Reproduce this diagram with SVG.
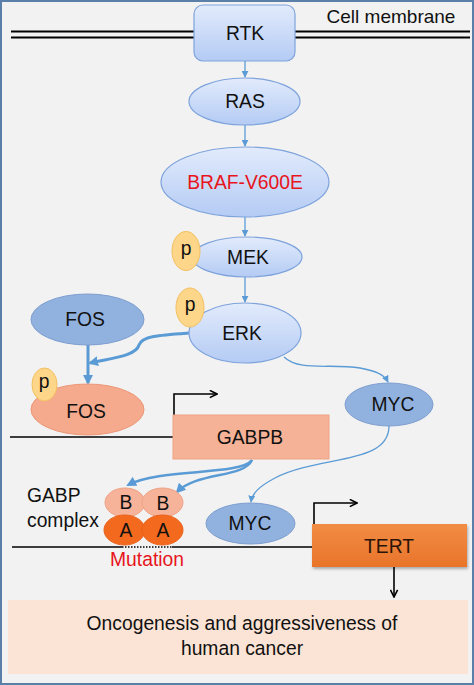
<svg xmlns="http://www.w3.org/2000/svg" width="474" height="685" viewBox="0 0 474 685">
<defs>
<linearGradient id="gBlue" x1="0" y1="0" x2="0" y2="1">
<stop offset="0" stop-color="#e2ebfc"/>
<stop offset="1" stop-color="#b4cbf4"/>
</linearGradient>
<linearGradient id="gOrange" x1="0" y1="0" x2="0" y2="1">
<stop offset="0" stop-color="#f28c44"/>
<stop offset="1" stop-color="#e9742a"/>
</linearGradient>
<filter id="sh" x="-10%" y="-10%" width="125%" height="130%">
<feDropShadow dx="1" dy="2" stdDeviation="1.5" flood-color="#000" flood-opacity="0.3"/>
</filter>
<marker id="ab" viewBox="0 0 10 10" refX="9" refY="5" markerWidth="7" markerHeight="7" markerUnits="userSpaceOnUse" orient="auto">
<path d="M0,0 L10,5 L0,10 z" fill="#5b9bd5"/>
</marker>
<marker id="abT" viewBox="0 0 10 10" refX="8" refY="5" markerWidth="10" markerHeight="10" markerUnits="userSpaceOnUse" orient="auto">
<path d="M0,0 L10,5 L0,10 z" fill="#5b9bd5"/>
</marker>
<marker id="ak" viewBox="0 0 10 10" refX="9" refY="5" markerWidth="9" markerHeight="9" markerUnits="userSpaceOnUse" orient="auto">
<path d="M1,1 L9,5 L1,9" fill="none" stroke="#000" stroke-width="1.8"/>
</marker>
</defs>
<style>
text{font-family:"Liberation Sans",Arial,sans-serif;font-size:19.3px;fill:#111;text-anchor:middle}
.bl{fill:url(#gBlue);stroke:#7ea3dc;stroke-width:1.2}
.fb{fill:#91b2df;stroke:#7c9dcf;stroke-width:1}
.pp{fill:#fdd68a;stroke:#f2c060;stroke-width:1}
.sal{fill:#f5a98d;stroke:#ec9676;stroke-width:1}
.bb{fill:#f7b39a;stroke:#eea284;stroke-width:1}
.aa{fill:#f36a1e;stroke:#ea6018;stroke-width:1}
.c{fill:none;stroke:#5b9bd5;stroke-width:1.3}
.ct{fill:none;stroke:#5b9bd5;stroke-width:3}
.k{fill:none;stroke:#000;stroke-width:1.6}
</style>
<rect x="1" y="1" width="472" height="683" fill="#f2f2f2" stroke="#5a7fa8" stroke-width="2"/>
<g id="membrane">
<line x1="11" y1="31.5" x2="470" y2="31.5" stroke="#000" stroke-width="2"/>
<line x1="11" y1="37.5" x2="470" y2="37.5" stroke="#000" stroke-width="2"/>
<text x="391" y="23" style="font-size:19px">Cell membrane</text>
</g>
<g id="dna">
<line x1="10" y1="437" x2="174" y2="437" class="k"/>
<line x1="12" y1="547" x2="122" y2="547" class="k"/>
<line x1="122" y1="547" x2="172" y2="547" stroke="#000" stroke-width="1.6" stroke-dasharray="1.5,1.5"/>
<line x1="172" y1="547" x2="313" y2="547" class="k"/>
</g>
<g id="connectors">
<line x1="245" y1="61" x2="245" y2="77" class="c" marker-end="url(#ab)"/>
<line x1="245" y1="125" x2="245" y2="146" class="c" marker-end="url(#ab)"/>
<line x1="245" y1="217" x2="245" y2="236" class="c" marker-end="url(#ab)"/>
<line x1="245" y1="277" x2="245" y2="302" class="c" marker-end="url(#ab)"/>
<line x1="88" y1="345" x2="88" y2="383" class="ct" marker-end="url(#abT)"/>
<path d="M189,333 C160,335 142,336 139,345 C136,356 112,358 90,363" class="ct" marker-end="url(#abT)"/>
<path d="M284,357 C300,372 330,363 360,368 C375,371 384,374 388,382" class="c" marker-end="url(#ab)"/>
<path d="M389,426 C389,465 320,455 275,478 C258,487 252,494 251,502" class="c" marker-end="url(#ab)"/>
<path d="M252,460 C240,476 160,468 128,485" fill="none" stroke="#5b9bd5" stroke-width="2.5" marker-end="url(#abT)"/>
<path d="M252,460 C244,478 196,472 177,492" fill="none" stroke="#5b9bd5" stroke-width="2.5" marker-end="url(#abT)"/>
<path d="M174,415 L174,394 L217,394" class="k" marker-end="url(#ak)"/>
<path d="M314,524 L314,503 L357,503" class="k" marker-end="url(#ak)"/>
<line x1="394" y1="567" x2="394" y2="597" class="k" marker-end="url(#ak)"/>
</g>
<g id="RTK">
<rect x="194" y="5" width="101" height="56" rx="9" class="bl"/>
<text x="245" y="40">RTK</text>
</g>
<g id="RAS">
<ellipse cx="244.5" cy="101.5" rx="55.5" ry="23.5" class="bl"/>
<text x="245" y="108">RAS</text>
</g>
<g id="BRAF">
<ellipse cx="245" cy="182" rx="84" ry="35" class="bl"/>
<text x="245" y="189" style="fill:#e8141c">BRAF-V600E</text>
</g>
<g id="MEK">
<ellipse cx="247" cy="257" rx="55" ry="20" class="bl"/>
<ellipse cx="186" cy="251" rx="14" ry="19.5" class="pp"/>
<text x="186" y="255">p</text>
<text x="248" y="264">MEK</text>
</g>
<g id="ERK">
<ellipse cx="245" cy="333" rx="56" ry="30" class="bl"/>
<ellipse cx="190" cy="307.5" rx="14" ry="19.5" class="pp"/>
<text x="190" y="311">p</text>
<text x="242" y="340">ERK</text>
</g>
<g id="FOS">
<ellipse cx="87.5" cy="319.5" rx="56.5" ry="25.5" class="fb"/>
<text x="85" y="326">FOS</text>
</g>
<g id="FOSp">
<ellipse cx="87.5" cy="409.5" rx="56.5" ry="25.5" class="sal"/>
<ellipse cx="44.5" cy="384.5" rx="12.5" ry="16.5" class="pp"/>
<text x="44" y="388">p</text>
<text x="86" y="418">FOS</text>
</g>
<g id="MYC1">
<ellipse cx="389" cy="404.5" rx="44" ry="21.5" class="fb"/>
<text x="393" y="411">MYC</text>
</g>
<g id="GABPB">
<rect x="173" y="415" width="156" height="44" fill="#f6b296" stroke="#eea282" stroke-width="1"/>
<text x="250" y="444">GABPB</text>
</g>
<g id="GABP">
<text x="27" y="502" style="text-anchor:start">GABP</text>
<text x="27" y="527" style="text-anchor:start">complex</text>
<ellipse cx="125" cy="502.5" rx="20" ry="14.5" class="bb"/>
<ellipse cx="162.5" cy="502.5" rx="20.5" ry="14.5" class="bb"/>
<ellipse cx="124.5" cy="530" rx="20.5" ry="15" class="aa"/>
<ellipse cx="162.5" cy="530" rx="20.5" ry="15" class="aa"/>
<text x="126" y="509">B</text>
<text x="163" y="510">B</text>
<text x="126" y="537">A</text>
<text x="163" y="537">A</text>
<text x="147" y="566" style="fill:#e8141c">Mutation</text>
</g>
<g id="MYC2">
<ellipse cx="250.5" cy="523.5" rx="44.5" ry="20.5" class="fb"/>
<text x="250" y="530">MYC</text>
</g>
<g id="TERT">
<rect x="312" y="524" width="155" height="43" fill="url(#gOrange)" filter="url(#sh)"/>
<text x="389" y="553" style="fill:#2a1408">TERT</text>
</g>
<g id="outcome">
<rect x="8" y="600" width="460" height="74" fill="#fbe4d5"/>
<text x="242" y="630">Oncogenesis and aggressiveness of</text>
<text x="242" y="655">human cancer</text>
</g>
</svg>
